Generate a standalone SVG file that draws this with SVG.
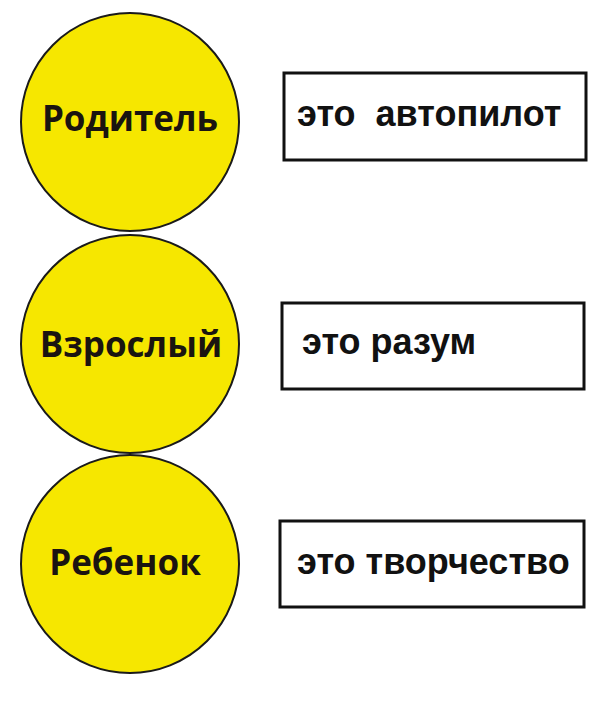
<svg xmlns="http://www.w3.org/2000/svg" width="600" height="710" viewBox="0 0 600 710">
<style>
.c{fill:#f6e700;stroke:#1a1a1a;stroke-width:2}
.b{fill:#ffffff;stroke:#111;stroke-width:3}
.lc{font-family:"Open Sans","Noto Sans",sans-serif;font-weight:bold;font-size:35px;fill:#1a1410;text-anchor:middle}
.lb{font-family:"Liberation Sans",Arial,sans-serif;font-weight:bold;font-size:36px;fill:#111}
</style>
<rect width="600" height="710" fill="#ffffff"/>
<g id="roditel">
<circle class="c" cx="130" cy="122" r="109"/>
<text class="lc" x="130" y="131">Родитель</text>
</g>
<g id="vzrosly">
<circle class="c" cx="130" cy="344" r="109"/>
<text class="lc" x="131" y="357">Взрослый</text>
</g>
<g id="rebenok">
<circle class="c" cx="130" cy="564" r="109"/>
<text class="lc" x="125" y="575">Ребенок</text>
</g>
<g id="avtopilot">
<rect class="b" x="284" y="73" width="302" height="87"/>
<text class="lb" x="297" y="126" xml:space="preserve">это  автопилот</text>
</g>
<g id="razum">
<rect class="b" x="282" y="303" width="302" height="86"/>
<text class="lb" x="302" y="354">это разум</text>
</g>
<g id="tvorchestvo">
<rect class="b" x="280" y="521" width="304" height="86"/>
<text class="lb" x="297" y="574">это творчество</text>
</g>
<g id="connectors"/>
</svg>
